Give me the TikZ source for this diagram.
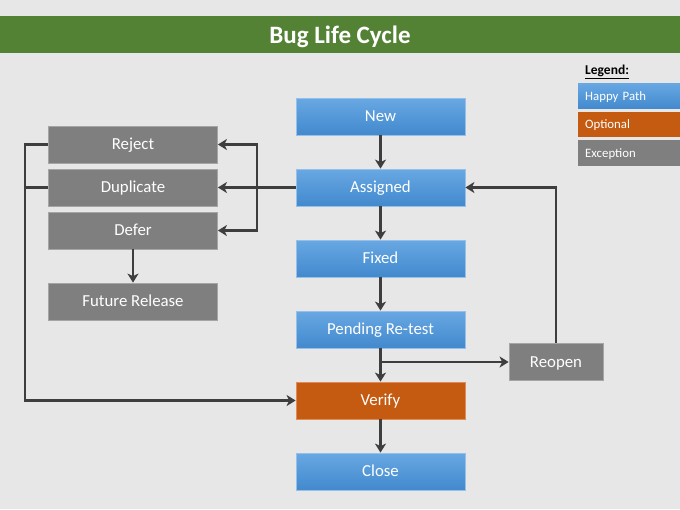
\documentclass[tikz,border=0pt]{standalone}
\usepackage{fontspec}
\setmainfont{Carlito}
\usetikzlibrary{arrows.meta,calc}
\definecolor{bgc}{RGB}{231,231,231}
\definecolor{titlegreen}{RGB}{84,130,53}
\definecolor{bluetop}{RGB}{104,168,227}
\definecolor{bluebot}{RGB}{66,137,205}
\definecolor{blueedge}{RGB}{150,192,234}
\definecolor{orangec}{RGB}{197,90,17}
\definecolor{orangeedge}{RGB}{222,140,90}
\definecolor{grayc}{RGB}{127,127,127}
\definecolor{grayedge}{RGB}{165,165,165}
\definecolor{linec}{RGB}{62,62,62}
\tikzset{
  box/.style={minimum width=169pt, minimum height=37pt, inner sep=0pt, anchor=center,
    text=white, font=\fontsize{16.8}{20}\selectfont, line width=0.8pt,
    text height=10.8pt, text depth=0pt},
  happy/.style={box, top color=bluetop, bottom color=bluebot, draw=blueedge},
  optional/.style={box, fill=orangec, draw=orangeedge},
  exception/.style={box, fill=grayc, draw=grayedge},
  legbox/.style={minimum width=103pt, minimum height=25.5pt, inner sep=0pt, anchor=west,
    text=white, font=\fontsize{12.8}{15}\selectfont, text width=95pt, align=left,
    text height=8.2pt, text depth=0pt},
  conn/.style={draw=linec, line width=2.5pt, line join=miter},
  arr/.style={conn, -{Stealth[length=9pt,width=11pt,inset=2.5pt]}},
}
\begin{document}
\begin{tikzpicture}[x=1pt,y=-1pt]
\useasboundingbox (0,0) rectangle (680,509);
\fill[bgc] (0,0) rectangle (680,509);
\fill[titlegreen] (0,16) rectangle (680,53);
\node[text=white, font=\bfseries\fontsize{25}{28}\selectfont, text height=16.1pt, text depth=0pt, inner sep=0pt] (title) at (340,35) {Bug Life Cycle};

% main column
\node[happy] (new) at (380.5,116.5) {New};
\node[happy] (assigned) at (380.5,187.5) {Assigned};
\node[happy] (fixed) at (380.5,258.5) {Fixed};
\node[happy] (pending) at (380.5,329.5) {Pending Re-test};
\node[optional] (verify) at (380.5,400.5) {Verify};
\node[happy] (close) at (380.5,471.5) {Close};

% left column
\node[exception] (reject) at (133,144.5) {Reject};
\node[exception] (duplicate) at (133,187.5) {Duplicate};
\node[exception] (defer) at (133,230.5) {Defer};
\node[exception] (future) at (133,301.5) {Future Release};

% reopen
\node[exception, minimum width=94pt] (reopen) at (556,362) {Reopen};

% legend
\node[anchor=west, font=\bfseries\fontsize{13.5}{15}\selectfont, inner sep=0pt] (legend) at (585,71.5) {\underline{Legend:}};
\node[legbox, top color=bluetop, bottom color=bluebot, inner xsep=7pt] (lhappy) at (578,96) {Happy Path};
\node[legbox, fill=orangec, inner xsep=7pt] (lopt) at (578,124.5) {Optional};
\node[legbox, fill=grayc, inner xsep=7pt] (lexc) at (578,153) {Exception};

% connectors
\draw[arr] (new) -- (assigned);
\draw[arr] (assigned) -- (fixed);
\draw[arr] (fixed) -- (pending);
\draw[arr] (pending) -- (verify);
\draw[arr] (verify) -- (close);

\draw[arr] (assigned.west) -- (duplicate.east);
\coordinate (br) at (257,187.5);
\draw[arr] (br) |- (reject.east);
\draw[arr] (br) |- (defer.east);

\draw[arr] (defer) -- (future);

\coordinate (lc) at (25,400.5);
\draw[arr] (reject.west) -| (lc) -- (verify.west);
\draw[conn] (duplicate.west) -- (duplicate.west -| lc);

\coordinate (pb) at (380.5,362);
\draw[arr] (pb) -- (reopen.west);
\draw[arr] (reopen.north) |- (assigned.east);
\end{tikzpicture}
\end{document}
